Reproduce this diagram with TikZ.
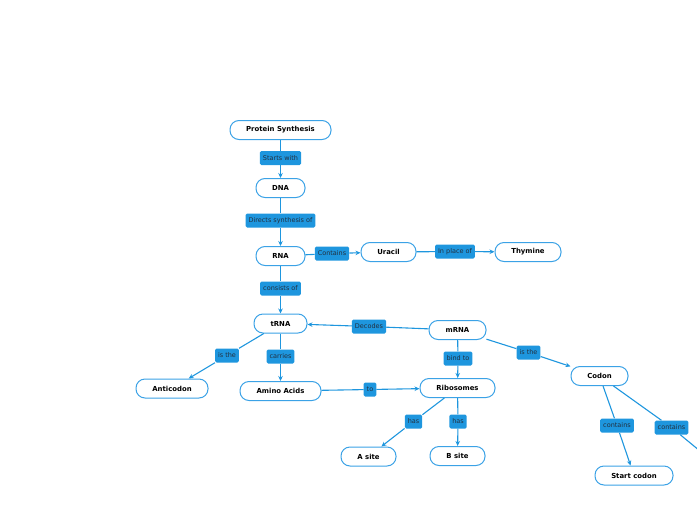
\documentclass[tikz,border=0pt]{standalone}
\usepackage{fontspec}
\setmainfont{DejaVu Sans}
\usetikzlibrary{arrows.meta}
\definecolor{mapblue}{HTML}{1E96DE}
\definecolor{edgeblue}{HTML}{3BA2E6}
\definecolor{lbltext}{HTML}{223040}
\tikzset{
  concept/.style={draw=edgeblue, line width=1pt, fill=white, rounded corners=9pt,
    minimum height=19pt, inner xsep=4pt, font=\fontsize{6.9}{8}\selectfont\bfseries},
  linklbl/.style={fill=mapblue, text=lbltext, rounded corners=1.5pt, minimum height=14pt,
    inner xsep=3pt, inner ysep=1pt, font=\fontsize{6.5}{8}\selectfont},
  link/.style={draw=mapblue, line width=1.1pt}
}
\begin{document}
\begin{tikzpicture}[x=1pt, y=-1pt, >={Stealth[length=5pt,width=4.5pt]}]
    \useasboundingbox (0,0) rectangle (697,520);
    % concepts
    \node [concept, minimum width=101pt] (ps) at (280.5,130) {Protein Synthesis};
    \node [concept, minimum width=49pt] (dna) at (280.5,188) {DNA};
    \node [concept, minimum width=49pt] (rna) at (280.5,256) {RNA};
    \node [concept, minimum width=55pt] (uracil) at (388.5,252) {Uracil};
    \node [concept, minimum width=66pt] (thymine) at (528,252) {Thymine};
    \node [concept, minimum width=53pt] (trna) at (280.5,323.5) {tRNA};
    \node [concept, minimum width=57pt] (mrna) at (457.5,330) {mRNA};
    \node [concept, minimum width=72pt] (anticodon) at (172,388.5) {Anticodon};
    \node [concept, minimum width=81pt] (amino) at (280.5,391) {Amino Acids};
    \node [concept, minimum width=75pt] (ribo) at (457.5,388) {Ribosomes};
    \node [concept, minimum width=57pt] (codon) at (599.5,376) {Codon};
    \node [concept, minimum width=55pt] (asite) at (368.5,456.5) {A site};
    \node [concept, minimum width=55pt] (bsite) at (457.5,456) {B site};
    \node [concept, minimum width=78pt] (start) at (634,475.5) {Start codon};
    \coordinate (offpage) at (740,484);
    % link labels
    \node [linklbl] (startswith) at (280.5,158) {Starts with};
    \node [linklbl] (directs) at (280.5,220.5) {Directs synthesis of};
    \node [linklbl] (contains) at (332,253.5) {Contains};
    \node [linklbl] (inplace) at (455,251.5) {In place of};
    \node [linklbl] (consists) at (280.5,288.5) {consists of};
    \node [linklbl] (decodes) at (369,326.5) {Decodes};
    \node [linklbl] (isthea) at (227,355.5) {is the};
    \node [linklbl] (carries) at (280.5,356.5) {carries};
    \node [linklbl] (bindto) at (458,358.5) {bind to};
    \node [linklbl] (istheb) at (528.5,352.5) {is the};
    \node [linklbl] (to) at (370,389.5) {to};
    \node [linklbl] (hasa) at (413.5,421.5) {has};
    \node [linklbl] (hasb) at (458,421.5) {has};
    \node [linklbl] (containsa) at (617,425.5) {contains};
    \node [linklbl] (containsb) at (671.5,427.5) {contains};
    % links
    \draw [link, ->] (ps) -- (startswith) -- (dna);
    \draw [link, ->] (dna) -- (directs) -- (rna);
    \draw [link, ->] (rna) -- (contains) -- (uracil);
    \draw [link, ->] (uracil) -- (inplace) -- (thymine);
    \draw [link, ->] (rna) -- (consists) -- (trna);
    \draw [link, ->] (mrna) -- (decodes) -- (trna);
    \draw [link, ->] (trna) -- (isthea) -- (anticodon);
    \draw [link, ->] (trna) -- (carries) -- (amino);
    \draw [link, ->] (amino) -- (to) -- (ribo);
    \draw [link, ->] (mrna) -- (bindto) -- (ribo);
    \draw [link, ->] (mrna) -- (istheb) -- (codon);
    \draw [link, ->] (ribo) -- (hasa) -- (asite);
    \draw [link, ->] (ribo) -- (hasb) -- (bsite);
    \draw [link, ->] (codon) -- (containsa) -- (start);
    \draw [link] (codon) -- (containsb) -- (offpage);
  \end{tikzpicture}
\end{document}
